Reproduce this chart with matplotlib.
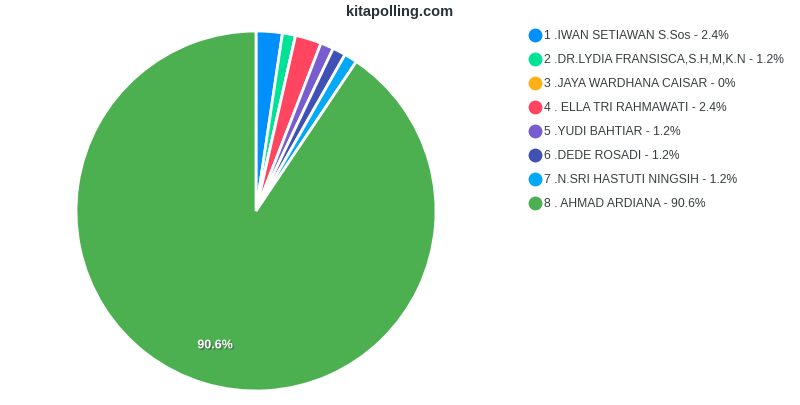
import matplotlib.pyplot as plt
import matplotlib.patheffects as pe
from matplotlib.lines import Line2D
import numpy as np

nama = ['1 .IWAN SETIAWAN S.Sos', '2 .DR.LYDIA FRANSISCA,S.H,M,K.N', '3 .JAYA WARDHANA CAISAR',
        '4 . ELLA TRI RAHMAWATI', '5 .YUDI BAHTIAR', '6 .DEDE ROSADI',
        '7 .N.SRI HASTUTI NINGSIH', '8 . AHMAD ARDIANA']
suara = [2, 1, 0, 2, 1, 1, 1, 77]
persen = ['2.4%', '1.2%', '0%', '2.4%', '1.2%', '1.2%', '1.2%', '90.6%']
warna = ['#008FFB', '#00E396', '#FEB019', '#FF4560', '#775DD0', '#3F51B5', '#03A9F4', '#4CAF50']

plt.rcParams['font.family'] = ['Liberation Sans', 'DejaVu Sans']

fig = plt.figure(figsize=(8, 4.05), dpi=100)
# area pie: pusat (256, 211), jari-jari 180 px
ax = fig.add_axes([(256 - 180) / 800, (405 - 211 - 180) / 405, 360 / 800, 360 / 405])

wedges, _ = ax.pie(suara, colors=warna, startangle=90, counterclock=False, radius=1,
                   wedgeprops=dict(edgecolor='white', linewidth=2))
ax.set_xlim(-1, 1)
ax.set_ylim(-1, 1)
ax.set_aspect('equal')
ax.axis('off')

# label persen hanya untuk slice besar
total = sum(suara)
mulai = 0
for v, p in zip(suara, persen):
    if v / total > 0.5:
        tengah = 90 - (mulai + v / 2) / total * 360
        r = 0.78
        ax.text(r * np.cos(np.radians(tengah)), r * np.sin(np.radians(tengah)), p,
                ha='center', va='center', color='white', fontsize=9, fontweight='bold',
                path_effects=[pe.withSimplePatchShadow(offset=(1, -1), alpha=0.6)])
    mulai += v

fig.text(0.5, 1 - 12 / 405, 'kitapolling.com', ha='center', va='center',
         fontsize=10.5, fontweight='bold', color='#263238')

handles = [Line2D([], [], marker='o', linestyle='', markersize=11, markerfacecolor=c,
                  markeredgecolor='white') for c in warna]
labels = [f'{n} - {p}' for n, p in zip(nama, persen)]
fig.legend(handles, labels, loc='upper left', bbox_to_anchor=(517 / 800, 1 - 19 / 405),
           frameon=False, fontsize=8.7, handletextpad=0.2, labelspacing=1.0,
           handlelength=1.1, labelcolor='#373d3f')

fig.savefig('out.png', dpi=100)
